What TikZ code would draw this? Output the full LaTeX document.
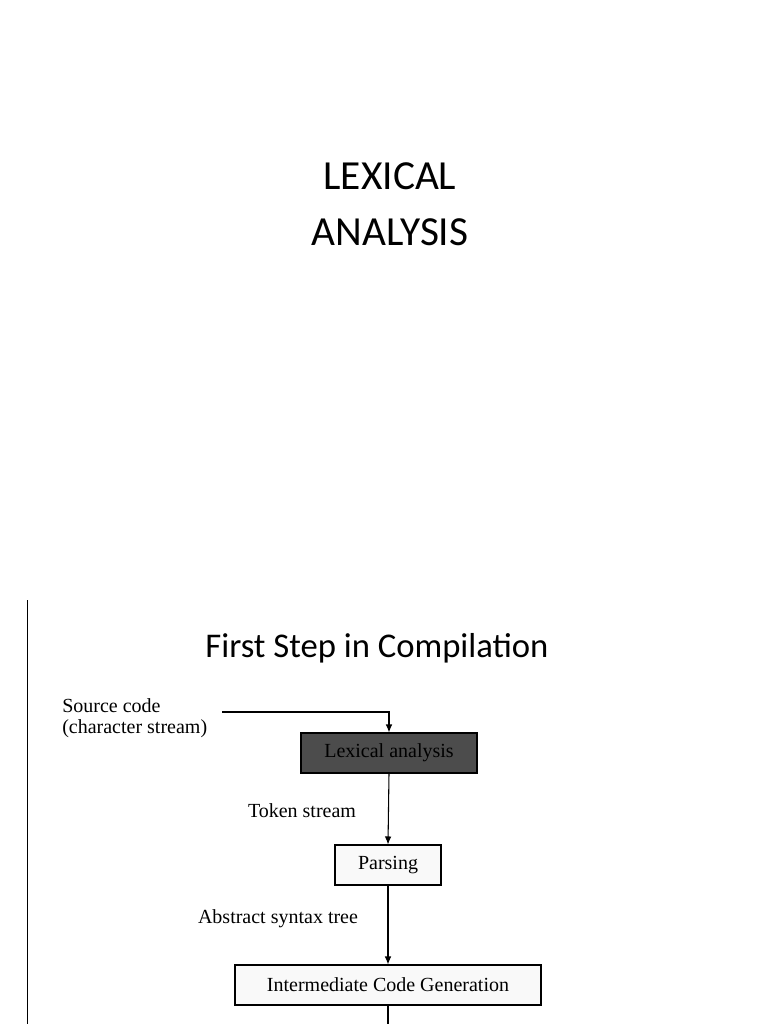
\documentclass[tikz,border=0pt]{standalone}
\usepackage{fontspec}
\usetikzlibrary{arrows.meta}
\setmainfont{Liberation Serif}
\newfontfamily\calfont{Carlito}
\begin{document}
\begin{tikzpicture}[x=0.75pt,y=-0.75pt,
 box/.style={draw,thick,fill=gray!5,minimum height=30pt,inner sep=3pt,font=\fontsize{15}{17}\selectfont},
 lbl/.style={font=\fontsize{15}{16}\selectfont,align=left},
 arr/.style={-{Latex[length=6pt,width=5pt]},thick}]
\useasboundingbox (0,0) rectangle (768,1024);
\node (t) at (390,204) [font=\calfont\fontsize{31}{42}\selectfont,align=center] {LEXICAL\\ANALYSIS};
\draw (27,600) -- (27,1024);
\node (s) at (377,648) [font=\calfont\fontsize{26}{30}\selectfont] {First Step in Compilation};
\node (src) [lbl,anchor=north west,inner sep=0pt] at (62,698) {Source code\\(character stream)};
\node (lex) [box,fill=black!70,minimum width=176*0.75pt] at (389,753) {Lexical analysis};
\coordinate (c1) at (222,712);
\draw[arr] (c1) -| (lex.north);
\node (par) [box,minimum width=106*0.75pt] at (388,865) {Parsing};
\draw[arr] (lex.south) -- (par.north);
\node [lbl] at (302,811) {Token stream};
\node (icg) [box,minimum width=306*0.75pt] at (388,985) {Intermediate Code Generation};
\draw[arr] (par.south) -- (icg.north);
\node [lbl] at (278,919) {Abstract syntax tree};
\coordinate (e) at (388,1024);
\draw[thick] (icg.south) -- (e);
\end{tikzpicture}
\end{document}
